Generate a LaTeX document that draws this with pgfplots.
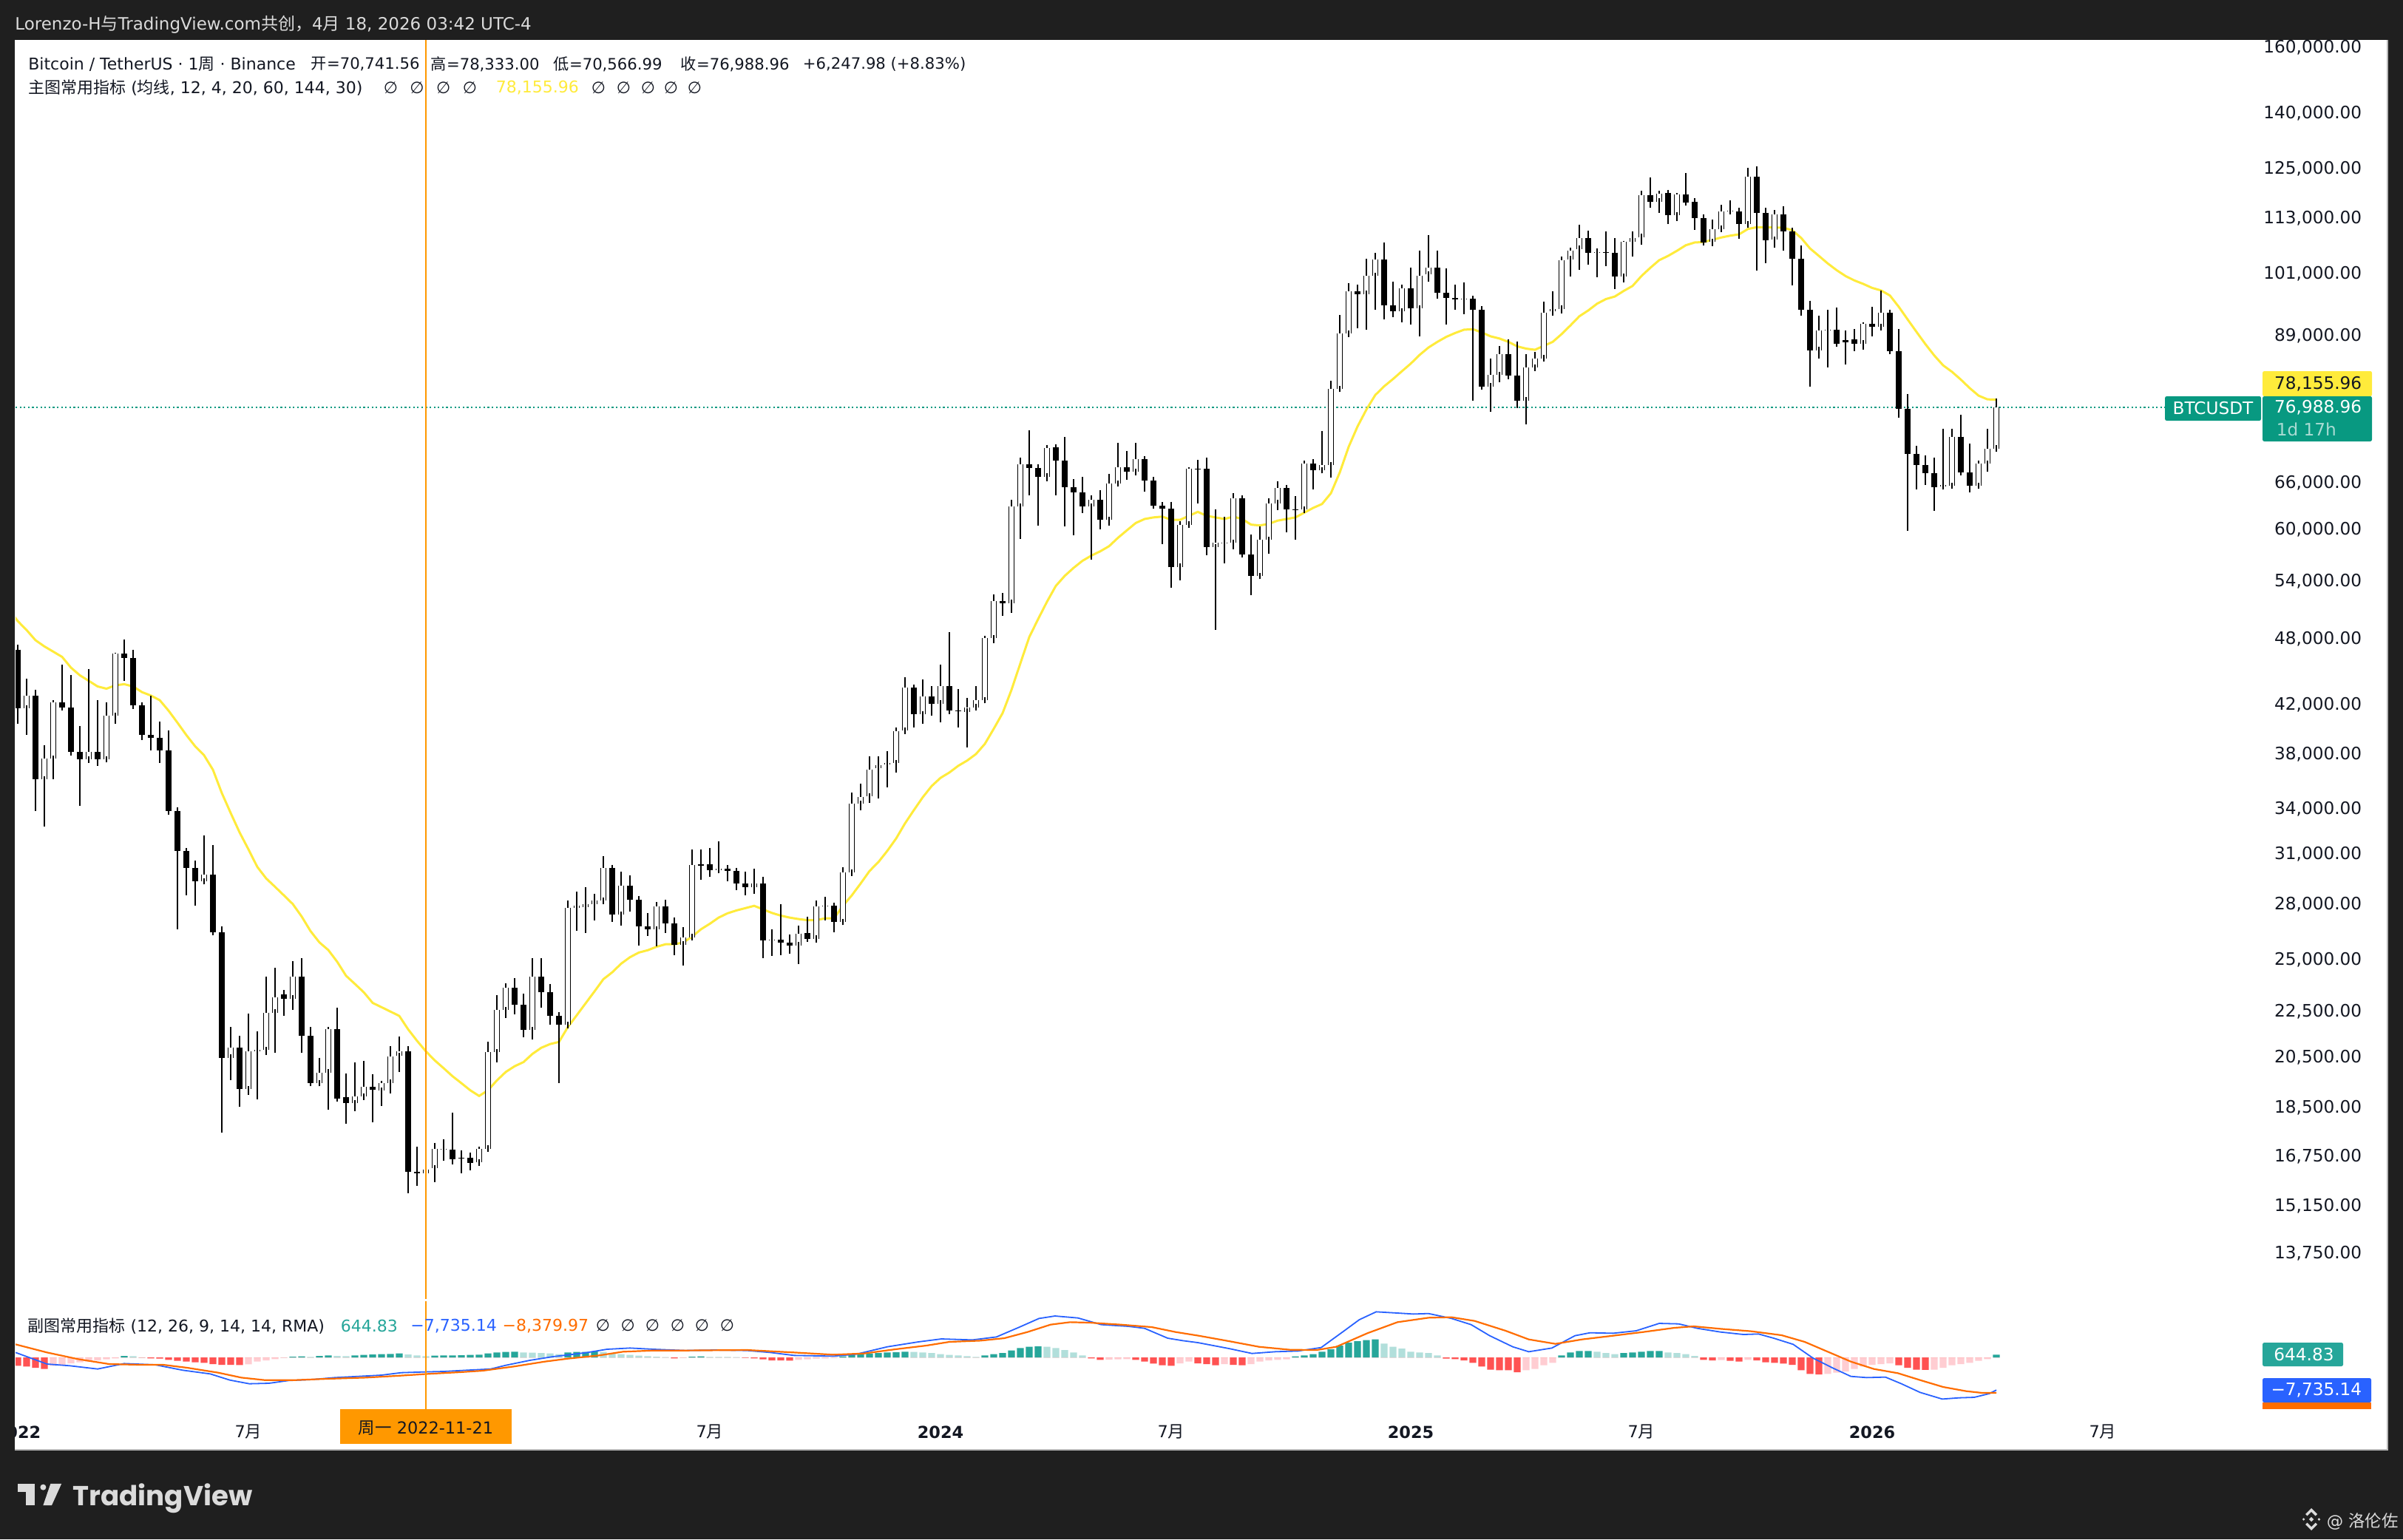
\documentclass[border=0pt]{standalone}
\usepackage{pgfplots}
\pgfplotsset{compat=1.18}
\usepackage{pgfplotstable}
\usepackage{fontspec}
\setmainfont{DejaVu Sans}
\newfontfamily\cjk{Noto Sans CJK SC}
\newfontfamily\popfont{Poppins}
\newcommand\zh[1]{{\cjk #1}}
\newcommand\fs[1]{\fontsize{#1pt}{#1pt}\selectfont}
\definecolor{bgdark}{HTML}{1F1F1F}
\definecolor{txt}{HTML}{131722}
\definecolor{tvteal}{HTML}{089981}
\definecolor{tvyellow}{HTML}{FFEB3B}
\definecolor{tvorange}{HTML}{FF9800}
\definecolor{macdblue}{HTML}{2962FF}
\definecolor{sigorange}{HTML}{FF6D00}
\definecolor{histdark}{HTML}{26A69A}
\definecolor{histlight}{HTML}{B2DFDB}
\definecolor{histpink}{HTML}{FFCDD2}
\definecolor{histred}{HTML}{FF5252}
\definecolor{logogrey}{HTML}{DBDBDB}
\pgfplotstableread{
k o h l c
0 47.0 47.5 40.4 41.7
1 41.7 44.3 39.5 42.8
2 42.8 43.3 33.85 36.1
3 36.1 38.7 32.8 37.65
4 37.65 42.4 36.1 42.2
5 42.2 45.6 41.5 41.8
6 41.8 44.6 37.9 38.15
7 38.15 40.2 34.2 37.6
8 37.6 45.2 37.3 38.15
9 38.15 42.4 37.1 37.6
10 37.6 42.2 37.4 41.06
11 41.06 46.7 40.4 46.6
12 46.6 48.0 44.1 46.2
13 46.2 47.0 41.7 41.95
14 41.95 42.2 39.1 39.5
15 39.5 42.8 38.3 39.25
16 39.25 40.6 37.3 38.27
17 38.27 39.9 33.6 33.85
18 33.85 34.1 26.6 31.19
19 31.19 31.3 28.5 30.12
20 30.12 30.6 27.9 29.33
21 29.33 32.2 29.17 29.73
22 29.73 31.56 26.3 26.44
23 26.44 26.74 17.6 20.48
24 20.48 21.8 19.56 20.92
25 20.92 21.41 18.53 19.22
26 19.22 22.41 19.0 20.76
27 20.76 21.6 18.81 20.8
28 20.8 24.17 20.6 22.45
29 22.45 24.58 20.7 23.15
30 23.3 23.5 22.3 23.1
31 23.1 24.92 22.57 24.17
32 24.17 25.1 20.7 21.41
33 21.41 21.8 19.4 19.45
34 19.45 20.48 19.4 19.88
35 19.88 21.8 18.42 21.7
36 21.7 22.68 18.8 18.86
37 18.9 19.84 17.9 18.67
38 18.67 20.3 18.38 18.92
39 18.92 20.36 18.86 19.3
40 19.3 19.8 17.97 19.18
41 19.15 19.55 18.56 19.46
42 19.46 20.96 19.05 20.53
43 20.55 21.4 19.9 20.76
44 20.76 20.96 15.55 16.24
45 16.24 17.08 15.77 16.2
46 16.2 16.74 15.4 16.32
47 16.35 17.23 15.9 17.01
48 16.98 17.34 16.6 17.02
49 17.0 18.32 16.48 16.67
50 16.7 16.96 16.19 16.68
51 16.72 16.89 16.29 16.54
52 16.55 17.1 16.5 17.02
53 17.02 21.15 17.0 20.72
54 20.72 23.25 20.3 22.56
55 22.56 23.83 22.2 23.6
56 23.6 24.1 22.38 22.8
57 22.8 23.32 21.35 21.67
58 21.67 25.1 21.27 24.14
59 24.14 25.1 22.67 23.42
60 23.42 23.8 21.9 22.31
61 22.31 22.46 19.45 21.89
62 21.89 28.2 21.76 27.8
63 27.8 28.7 26.5 27.9
64 27.83 29.0 26.4 27.99
65 28.0 28.6 27.1 28.2
66 28.2 30.86 28.15 30.13
67 30.13 30.3 27.0 27.4
68 27.4 29.9 26.8 29.08
69 29.08 29.68 27.56 28.25
70 28.25 28.48 25.72 26.76
71 26.75 27.5 26.25 26.6
72 26.6 28.1 25.7 27.88
73 27.88 28.25 26.4 26.93
74 26.93 27.25 25.25 25.79
75 25.79 26.7 24.7 26.17
76 26.17 31.27 26.0 30.3
77 30.35 31.3 29.4 30.25
78 30.37 31.4 29.6 29.98
79 30.0 31.8 29.8 30.1
80 30.1 30.3 29.35 29.95
81 29.95 30.05 28.8 29.2
82 29.2 29.9 28.5 29.0
83 29.0 30.1 28.6 29.2
84 29.2 29.6 25.1 26.0
85 26.0 26.6 25.2 26.05
86 26.05 28.0 25.25 25.88
87 25.9 26.3 25.3 25.75
88 25.75 26.8 24.8 26.37
89 26.4 27.3 26.0 26.1
90 26.1 28.2 25.9 27.85
91 27.85 28.4 27.1 27.9
92 27.9 28.0 26.45 27.0
93 27.0 30.17 26.9 29.85
94 29.85 35.13 29.8 34.33
95 34.33 35.8 33.9 34.83
96 34.85 37.8 34.4 36.84
97 36.9 37.8 34.7 37.15
98 37.2 38.2 35.5 37.3
99 37.3 40.1 36.6 39.79
100 39.85 44.4 39.7 43.5
101 43.5 43.6 40.1 41.2
102 41.2 44.2 40.4 42.74
103 42.74 43.6 41.1 42.1
104 42.1 45.6 40.5 43.6
105 43.6 48.7 41.4 41.5
106 41.5 43.34 40.1 41.45
107 41.4 42.6 38.5 41.8
108 41.8 43.6 41.7 42.4
109 42.4 48.3 42.3 48.1
110 48.1 52.6 47.6 51.9
111 51.9 52.7 50.3 51.6
112 51.65 63.7 50.6 62.85
113 62.85 69.5 58.9 68.5
114 68.5 73.4 64.3 68.0
115 68.0 68.5 60.5 66.8
116 66.8 71.3 66.2 70.85
117 70.9 71.0 64.3 69.0
118 69.0 72.4 60.4 65.4
119 65.4 66.5 59.3 64.7
120 64.7 66.8 62.0 62.85
121 62.85 64.3 56.4 63.7
122 63.7 65.0 60.0 61.2
123 61.2 67.2 60.5 65.9
124 65.9 71.6 65.8 68.1
125 68.1 70.4 66.4 67.5
126 67.5 71.6 67.0 69.2
127 69.2 69.7 64.8 66.3
128 66.3 66.8 62.8 63.0
129 63.0 63.2 58.2 62.6
130 62.6 63.5 53.3 55.6
131 55.6 61.0 54.1 60.6
132 60.6 68.1 60.5 67.9
133 67.9 69.1 63.3 67.85
134 67.9 69.5 56.96 57.9
135 57.9 62.5 48.9 58.4
136 58.4 61.6 56.0 58.45
137 58.4 64.6 57.6 63.9
138 63.9 64.1 56.9 57.04
139 57.04 59.4 52.5 54.6
140 54.6 60.4 54.5 58.75
141 58.75 63.9 57.1 63.3
142 63.3 66.2 62.4 65.3
143 65.3 65.5 59.7 62.5
144 62.55 64.2 58.75 62.5
145 62.5 69.0 62.4 68.65
146 68.65 69.2 65.1 67.7
147 67.7 73.3 67.3 68.4
148 68.4 81.2 66.7 79.9
149 79.9 92.8 79.8 89.4
150 89.4 99.1 89.2 97.5
151 97.5 98.7 90.4 96.9
152 96.9 104.1 90.1 100.5
153 100.5 105.3 93.9 104.0
154 104.0 107.6 92.0 94.7
155 94.7 99.4 92.4 93.5
156 93.5 98.7 91.4 98.0
157 98.0 102.3 91.0 94.1
158 94.1 105.9 88.9 100.6
159 100.8 109.3 99.3 102.2
160 102.2 105.9 95.9 97.1
161 97.1 102.1 91.0 96.1
162 96.1 98.7 93.8 95.8
163 95.8 99.2 93.0 95.9
164 95.9 96.1 78.0 93.8
165 93.8 94.5 79.8 80.3
166 80.3 85.0 76.2 82.2
167 82.2 87.1 81.0 85.7
168 85.7 88.3 81.4 82.1
169 82.1 88.0 76.8 78.0
170 78.0 85.7 74.3 83.4
171 83.4 86.1 82.9 85.0
172 85.0 95.4 84.9 93.3
173 93.5 97.4 92.7 94.0
174 94.0 104.5 93.1 103.8
175 104.0 106.4 100.4 105.9
176 106.2 111.6 101.8 108.5
177 108.6 110.3 102.8 105.3
178 105.4 106.3 100.2 105.5
179 105.5 110.0 102.6 105.45
180 105.3 108.6 97.9 100.4
181 100.4 108.0 99.2 107.8
182 107.8 110.0 104.6 108.6
183 108.8 119.5 107.1 118.5
184 118.5 122.8 115.5 116.9
185 116.9 119.5 114.3 118.8
186 119.0 119.3 111.7 113.7
187 113.7 119.0 112.4 118.7
188 118.7 123.9 116.3 116.7
189 116.9 117.2 110.4 113.0
190 113.1 113.3 107.1 107.6
191 107.7 112.8 106.8 110.6
192 110.6 116.1 110.4 114.7
193 114.8 117.3 114.0 114.85
194 114.7 114.9 108.4 111.7
195 111.7 125.3 111.0 123.0
196 123.0 125.6 101.6 114.3
197 114.3 115.4 103.2 108.1
198 108.2 114.9 106.4 114.0
199 114.0 115.9 105.9 110.0
200 110.1 110.4 98.6 104.1
201 104.1 106.9 92.7 93.8
202 93.8 95.6 80.2 86.4
203 86.4 92.7 84.9 89.9
204 90.0 93.8 83.4 90.1
205 90.1 94.3 87.2 87.6
206 88.2 89.9 84.0 87.8
207 88.3 90.2 86.2 87.6
208 87.6 91.5 86.5 91.2
209 91.2 94.4 88.9 90.6
210 90.6 97.6 90.0 93.2
211 93.2 93.4 85.8 86.3
212 86.3 90.2 75.4 76.7
213 76.7 79.1 59.8 70.0
214 70.0 71.1 65.1 68.4
215 68.4 69.8 65.7 67.3
216 67.3 69.5 62.3 65.4
217 65.5 73.7 65.2 65.7
218 65.6 73.7 65.5 72.5
219 72.5 75.8 67.1 67.4
220 67.4 71.5 64.7 65.6
221 65.6 69.0 65.5 68.6
222 68.6 73.6 67.5 70.74
223 70.74156 78.333 70.56699 76.98896
}\candles
\pgfplotstableread{
k v
-1 51.0
0 49.8
1 48.9
2 47.9
3 47.3
4 46.8
5 46.3
6 45.3
7 44.6
8 44.1
9 43.6
10 43.4
11 43.7
12 43.8
13 43.6
14 43.1
15 42.8
16 42.4
17 41.5
18 40.5
19 39.5
20 38.6
21 37.9
22 36.8
23 35.1
24 33.7
25 32.4
26 31.3
27 30.2
28 29.5
29 29.0
30 28.5
31 28.0
32 27.3
33 26.5
34 25.9
35 25.5
36 24.9
37 24.2
38 23.8
39 23.4
40 22.9
41 22.7
42 22.5
43 22.3
44 21.7
45 21.2
46 20.75
47 20.37
48 20.05
49 19.73
50 19.45
51 19.17
52 18.95
53 19.17
54 19.56
55 19.9
56 20.13
57 20.3
58 20.64
59 20.9
60 21.06
61 21.15
62 21.8
63 22.33
64 22.88
65 23.44
66 24.03
67 24.37
68 24.8
69 25.13
70 25.37
71 25.49
72 25.67
73 25.8
74 25.8
75 25.9
76 26.2
77 26.6
78 26.9
79 27.24
80 27.48
81 27.64
82 27.77
83 27.9
84 27.7
85 27.5
86 27.35
87 27.24
88 27.16
89 27.1
90 27.1
91 27.2
92 27.2
93 27.9
94 28.5
95 29.2
96 29.95
97 30.5
98 31.2
99 32.0
100 33.0
101 33.9
102 34.8
103 35.6
104 36.2
105 36.6
106 37.1
107 37.5
108 38.0
109 38.8
110 40.0
111 41.3
112 43.3
113 45.7
114 48.2
115 50.0
116 51.8
117 53.5
118 54.6
119 55.5
120 56.3
121 56.9
122 57.4
123 58.0
124 59.0
125 59.9
126 60.8
127 61.3
128 61.5
129 61.6
130 61.2
131 61.2
132 61.7
133 62.2
134 61.7
135 61.5
136 61.3
137 61.6
138 61.3
139 60.6
140 60.5
141 60.7
142 61.1
143 61.3
144 61.5
145 62.1
146 62.7
147 63.2
148 64.6
149 67.4
150 71.0
151 74.0
152 76.6
153 78.9
154 80.3
155 81.5
156 82.8
157 84.1
158 85.6
159 86.9
160 87.9
161 88.8
162 89.5
163 90.1
164 90.2
165 89.6
166 88.9
167 88.5
168 87.9
169 87.1
170 86.7
171 86.5
172 87.2
173 87.9
174 89.3
175 90.9
176 92.6
177 93.7
178 95.0
179 95.9
180 96.4
181 97.5
182 98.5
183 100.5
184 102.2
185 103.8
186 104.7
187 105.8
188 107.0
189 107.6
190 107.7
191 108.2
192 108.7
193 109.1
194 109.4
195 110.6
196 111.0
197 111.0
198 110.9
199 110.9
200 110.3
201 108.6
202 106.3
203 104.7
204 103.1
205 101.7
206 100.5
207 99.6
208 98.9
209 98.1
210 97.6
211 96.6
212 94.4
213 92.0
214 89.7
215 87.5
216 85.5
217 83.8
218 82.7
219 81.4
220 80.0
221 78.8
222 78.2
223 78.15596
}\ma
\pgfplotstableread{
k v
-0.25 1167
3.3 -1575
5.9 -1983
9.0 -2742
12.0 -1458
15.5 -1750
18.6 -3033
21.7 -3908
23.9 -5366
26.1 -6241
28.3 -6125
30.5 -5483
33.1 -5250
35.7 -4783
38.4 -4491
41.0 -4200
43.2 -3617
45.8 -3441
48.0 -3325
50.6 -3033
53.3 -2742
55.0 -1867
57.7 -700
60.3 175
62.0 583
64.2 1167
66.4 1925
69.0 2217
71.7 1925
75.2 1633
78.7 1750
82.2 1633
84.8 1167
87.5 467
91.9 292
94.5 758
98.0 2508
101.5 3675
104.1 4375
107.6 4141
110.3 4841
112.9 7175
115.1 9216
116.9 9800
119.5 9333
122.1 7758
125.2 7350
127.0 6883
129.6 4550
131.3 3966
133.0 3500
136.5 2100
139.1 933
141.7 1342
144.3 1517
146.9 2333
149.5 6300
151.2 8925
153.1 10791
155.5 10500
157.3 10266
159.0 10383
161.6 9216
163.8 7758
165.9 5133
168.5 2508
170.3 1342
172.9 2217
175.5 5133
177.2 5833
179.8 5716
182.4 6300
185.0 8050
187.2 7933
189.3 6883
191.9 6008
194.5 5425
196.2 5541
197.9 4550
200.1 3092
202.3 -117
204.5 -2450
206.6 -4491
208.4 -4783
210.5 -4666
212.3 -6241
214.4 -8283
216.9 -9858
218.8 -9566
220.5 -9450
222.2 -8575
223 -7735.14
}\macd
\pgfplotstableread{
k v
-0.25 3091
3.3 1167
6.8 -408
10.3 -1575
13.8 -1750
16.4 -1750
19.1 -2450
22.6 -3617
25.2 -4783
27.8 -5366
31.3 -5366
34.8 -5075
39.2 -4783
42.7 -4375
46.2 -3908
49.8 -3500
52.4 -3150
55.9 -2158
59.4 -992
62.0 -292
65.5 467
68.2 1342
71.7 1633
75.2 1633
82.2 1750
87.5 1167
91.9 642
95.4 933
98.9 1925
102.4 2800
105.0 3675
108.5 3966
111.2 4550
113.8 6008
116.4 7758
118.6 8341
120.8 8225
124.3 7758
127.8 7175
130.5 6008
133.1 5133
136.5 3850
139.9 2508
143.4 1808
146.4 1750
148.6 2508
152.1 5716
155.5 8341
159.0 9391
161.6 9508
164.2 8633
167.7 6300
170.3 4258
173.3 3208
176.3 4258
179.8 5133
183.2 6008
186.7 7000
188.9 7350
191.9 6766
195.4 6183
198.8 5250
201.4 3675
204.0 1342
206.6 -992
209.2 -2742
211.9 -3733
214.4 -5366
217.0 -7000
219.6 -7991
221.4 -8400
223 -8379.97
}\sig
\pgfplotstableread{
k h t
0 -1983 4
1 -2158 4
2 -2450 4
3 -2742 4
4 -1983 3
5 -1750 3
6 -1400 3
7 -1167 3
8 -992 3
9 -700 3
10 -467 3
11 -233 3
12 350 1
13 292 2
14 -60 4
15 -233 4
16 -292 4
17 -583 4
18 -817 4
19 -992 4
20 -1167 4
21 -1283 4
22 -1575 4
23 -1750 4
24 -1780 4
25 -1800 4
26 -1633 3
27 -992 3
28 -700 3
29 -408 3
30 -117 3
31 175 1
32 233 1
33 117 2
34 350 1
35 467 1
36 350 2
37 292 2
38 467 1
39 583 1
40 700 1
41 758 1
42 817 1
43 933 1
44 700 2
45 467 2
46 292 2
47 408 1
48 467 1
49 480 1
50 525 1
51 583 1
52 642 1
53 933 1
54 1167 1
55 1283 1
56 1342 1
57 1167 2
58 1120 2
59 1050 2
60 933 2
61 758 2
62 1167 1
63 1283 1
64 1300 1
65 1400 1
66 1283 2
67 1050 2
68 758 2
69 583 2
70 408 2
71 292 2
72 175 2
73 58 2
74 -233 4
75 -117 3
76 175 1
77 233 1
78 117 2
79 110 2
80 100 2
81 58 2
82 -117 4
83 -233 4
84 -467 4
85 -700 4
86 -720 4
87 -740 4
88 -583 3
89 -467 3
90 -292 3
91 -233 3
92 -117 3
93 233 1
94 583 1
95 758 1
96 933 1
97 1050 1
98 1167 1
99 1225 1
100 1342 1
101 1300 2
102 1167 2
103 1050 2
104 758 2
105 583 2
106 467 2
107 292 2
108 117 2
109 467 1
110 758 1
111 1050 1
112 1633 1
113 2217 1
114 2508 1
115 2625 1
116 2508 2
117 2217 2
118 1750 2
119 1167 2
120 467 2
121 -233 4
122 -583 4
123 -550 3
124 -467 3
125 -408 3
126 -583 4
127 -992 4
128 -1458 4
129 -1867 4
130 -1983 4
131 -1400 3
132 -992 3
133 -1400 4
134 -1575 4
135 -1867 4
136 -1575 3
137 -1750 4
138 -1867 4
139 -1575 3
140 -992 3
141 -700 3
142 -583 3
143 -467 3
144 233 1
145 467 1
146 758 1
147 1342 1
148 1925 1
149 2800 1
150 3500 1
151 3850 1
152 4083 1
153 4258 1
154 3266 2
155 2508 2
156 2100 2
157 1342 2
158 1167 2
159 1050 2
160 467 2
161 -292 4
162 -408 4
163 -700 4
164 -1283 4
165 -2158 4
166 -2917 4
167 -3033 4
168 -3050 4
169 -3500 4
170 -3033 3
171 -2742 3
172 -1867 3
173 -1283 3
174 467 1
175 1167 1
176 1517 1
177 1530 1
178 1342 2
179 1050 2
180 758 2
181 1050 1
182 1167 1
183 1342 1
184 1517 1
185 1530 1
186 1167 2
187 1050 2
188 758 2
189 350 2
190 -583 4
191 -700 4
192 -650 3
193 -817 4
194 -992 4
195 -583 3
196 -700 4
197 -1167 4
198 -1283 4
199 -1458 4
200 -1750 4
201 -3033 4
202 -3908 4
203 -4025 4
204 -3908 3
205 -3617 3
206 -3325 3
207 -2742 3
208 -2158 3
209 -1750 3
210 -1575 3
211 -1400 3
212 -1867 4
213 -2450 4
214 -2917 4
215 -2950 4
216 -2900 3
217 -2450 3
218 -1867 3
219 -1575 3
220 -1283 3
221 -817 3
222 -408 3
223 644.83 1
}\hist
\begin{document}
\begin{tikzpicture}
\useasboundingbox (0,0) rectangle (812.5pt,520.5pt);
\fill[bgdark] (0,0) rectangle (812.5pt,520.5pt);
\fill[white] (5pt,30.25pt) rectangle (807.25pt,507pt);
\draw[gray!55, line width=0.4pt] (5pt,30.25pt) -- (807.25pt,30.25pt) -- (807.25pt,507pt);
% ---------------- main pane ----------------
\begin{axis}[
  at={(5.25pt,81pt)}, anchor=south west,
  width=759.75pt, height=426pt, scale only axis,
  xmin=-0.25, xmax=253,
  ymode=log, ymin=12.517, ymax=162.5,
  axis line style={draw=none},
  xtick=\empty, yminorticks=false, major tick length=0pt,
  ytick={13.75,15.15,16.75,18.5,20.5,22.5,25,28,31,34,38,42,48,54,60,66,89,101,113,125,140,160},
  yticklabels={{13,750.00},{15,150.00},{16,750.00},{18,500.00},{20,500.00},{22,500.00},{25,000.00},{28,000.00},{31,000.00},{34,000.00},{38,000.00},{42,000.00},{48,000.00},{54,000.00},{60,000.00},{66,000.00},{89,000.00},{101,000.00},{113,000.00},{125,000.00},{140,000.00},{160,000.00}},
  yticklabel pos=right,
  yticklabel style={anchor=east, xshift=33.75pt, inner sep=0pt, font=\fs{5.8}, text=txt},
]
\addplot[tvteal, line width=0.45pt, dash pattern=on 0.55pt off 0.85pt, forget plot] coordinates {(-0.25,76.98896) (242,76.98896)};
\addplot[tvyellow, line width=0.75pt, forget plot] table[x=k,y=v]{\ma};
% wicks
\addplot[draw=none, mark=none, forget plot,
  error bars/.cd, y dir=minus, y explicit, error mark=none,
  error bar style={draw=black, line width=0.4pt}]
  table[x=k, y=h, y error minus expr={\thisrow{h}-\thisrow{l}}]{\candles};
% bodies (black)
\addplot[draw=none, mark=none, forget plot,
  error bars/.cd, y dir=minus, y explicit, error mark=-,
  error mark options={draw=black, line width=0.36pt, mark size=1.1pt},
  error bar style={draw=black, line width=2.2pt, line cap=butt}]
  table[x=k, y expr={max(\thisrow{o},\thisrow{c})}, y error minus expr={abs(\thisrow{o}-\thisrow{c})}]{\candles};
% up bodies: white inside (zero length for down candles)
\addplot[draw=none, mark=none, forget plot,
  error bars/.cd, y dir=minus, y explicit, error mark=-,
  error mark options={draw=black, line width=0.36pt, mark size=1.1pt},
  error bar style={draw=white, line width=1.48pt, line cap=butt}]
  table[x=k, y expr={max(\thisrow{o},\thisrow{c})}, y error minus expr={max(\thisrow{c}-\thisrow{o},0)}]{\candles};
\end{axis}
% ---------------- MACD pane ----------------
\begin{axis}[
  at={(5.25pt,44pt)}, anchor=south west,
  width=759.75pt, height=36.5pt, scale only axis,
  xmin=-0.25, xmax=253, ymin=-12250, ymax=13300,
  axis line style={draw=none},
  ytick=\empty, major tick length=0pt,
  xtick={0,26,78,104,130,157,183,209,235},
  xticklabels={\textbf{2022},7\zh{月},7\zh{月},\textbf{2024},7\zh{月},\textbf{2025},7\zh{月},\textbf{2026},7\zh{月}},
  xticklabel style={anchor=center, yshift=-7.75pt, inner sep=0pt, font=\fs{5.6}, text=txt},
]
\addplot[ybar, bar width=2.3pt, bar shift=0pt, draw=none, fill=histdark, forget plot] table[x=k,y expr={\thisrow{t}==1 ? \thisrow{h} : 0}]{\hist};
\addplot[ybar, bar width=2.3pt, bar shift=0pt, draw=none, fill=histlight, forget plot] table[x=k,y expr={\thisrow{t}==2 ? \thisrow{h} : 0}]{\hist};
\addplot[ybar, bar width=2.3pt, bar shift=0pt, draw=none, fill=histpink, forget plot] table[x=k,y expr={\thisrow{t}==3 ? \thisrow{h} : 0}]{\hist};
\addplot[ybar, bar width=2.3pt, bar shift=0pt, draw=none, fill=histred, forget plot] table[x=k,y expr={\thisrow{t}==4 ? \thisrow{h} : 0}]{\hist};
\addplot[macdblue, line width=0.45pt, forget plot] table[x=k,y=v]{\macd};
\addplot[sigorange, line width=0.55pt, forget plot] table[x=k,y=v]{\sig};
\end{axis}
% crosshair
\draw[tvorange, line width=0.35pt] (144pt,507pt) -- (144pt,81.3pt);
\draw[tvorange, line width=0.35pt] (144pt,80.4pt) -- (144pt,44pt);
\fill[tvorange] (115pt,32.25pt) rectangle (173pt,44pt);
\node[inner sep=0pt, font=\fs{5.6}, text=txt] at (144pt,37.6pt) {\zh{周一} 2022-11-21};
% cover left overflow
\fill[bgdark] (0,30pt) rectangle (5pt,507pt);
% right price labels
\fill[tvyellow, rounded corners=0.6pt] (765pt,386.5pt) rectangle (802pt,395pt);
\node[anchor=east, inner sep=0pt, font=\fs{5.8}, text=txt] at (798.75pt,390.75pt) {78,155.96};
\fill[tvteal, rounded corners=0.6pt] (732pt,378.25pt) rectangle (764.5pt,386.5pt);
\node[inner sep=0pt, font=\fs{5.8}, text=white] at (748.25pt,382.4pt) {BTCUSDT};
\fill[tvteal, rounded corners=0.6pt] (765pt,371.25pt) rectangle (802pt,386.5pt);
\node[anchor=east, inner sep=0pt, font=\fs{5.8}, text=white] at (798.75pt,382.6pt) {76,988.96};
\node[anchor=west, inner sep=0pt, font=\fs{5.8}, text=white!65!tvteal] at (769.5pt,375.3pt) {1d 17h};
% MACD labels
\fill[histdark, rounded corners=0.6pt] (765pt,58.5pt) rectangle (792.25pt,66.5pt);
\node[inner sep=0pt, font=\fs{5.8}, text=white] at (779pt,62.5pt) {644.83};
\fill[macdblue, rounded corners=0.6pt] (765pt,46.25pt) rectangle (801.75pt,54.5pt);
\node[anchor=east, inner sep=0pt, font=\fs{5.8}, text=white] at (798.75pt,50.4pt) {−7,735.14};
\fill[sigorange] (765pt,44pt) rectangle (801.75pt,46.25pt);
% title bar
\node[anchor=west, inner sep=0pt, font=\fs{5.75}, text=logogrey] at (4.9pt,512.25pt) {Lorenzo-H\zh{与}TradingView.com\zh{共创，}4\zh{月} 18, 2026 03:42 UTC-4};
% legends
\begin{scope}[every node/.style={anchor=west, inner sep=0pt, font=\fs{5.5}, text=txt}]
\node at (9.4pt,498.8pt) {Bitcoin / TetherUS · 1\zh{周} · Binance};
\node[font=\fs{5.3}] at (105pt,498.8pt) {\zh{开}=70,741.56};
\node[font=\fs{5.3}] at (145.5pt,498.8pt) {\zh{高}=78,333.00};
\node[font=\fs{5.3}] at (187pt,498.8pt) {\zh{低}=70,566.99};
\node[font=\fs{5.3}] at (230pt,498.8pt) {\zh{收}=76,988.96};
\node[font=\fs{5.3}] at (271.25pt,498.8pt) {+6,247.98 (+8.83\%)};
\node at (9.4pt,490.9pt) {\zh{主图常用指标} (\zh{均线}, 12, 4, 20, 60, 144, 30)};
\foreach \xx in {129.5,138.4,147.3,156.25,199.75,208.25,216.5,224.25,232.25} \node at (\xx pt,490.9pt) {∅};
\node[text=tvyellow] at (167.5pt,490.9pt) {78,155.96};
\node at (9.2pt,72.2pt) {\zh{副图常用指标} (12, 26, 9, 14, 14, RMA)};
\node[text=histdark] at (115pt,72.2pt) {644.83};
\node[text=macdblue] at (138.65pt,72.2pt) {−7,735.14};
\node[text=sigorange] at (169.7pt,72.2pt) {−8,379.97};
\foreach \xx in {201.25,209.7,218,226.5,234.75,243.25} \node at (\xx pt,72.2pt) {∅};
\end{scope}
% TradingView logo
\fill[logogrey] (6pt,15.9pt) rectangle (11.8pt,18.8pt);
\fill[logogrey] (8.75pt,11.5pt) rectangle (11.8pt,18.8pt);
\fill[logogrey] (14.6pt,17.6pt) circle (1pt);
\fill[logogrey] (17.1pt,18.8pt) -- (20.8pt,18.8pt) -- (17.5pt,11.5pt) -- (14.6pt,11.5pt) -- cycle;
\node[anchor=base west, inner sep=0pt, text=logogrey, font=\popfont\bfseries\fs{9.3}] at (24.4pt,11.5pt) {TradingView};
% signature
\fill[logogrey] (781.5pt,7.55pt) -- (782.3pt,6.75pt) -- (781.5pt,5.95pt) -- (780.7pt,6.75pt) -- cycle;
\fill[logogrey] (778.9pt,7.2pt) -- (779.35pt,6.75pt) -- (778.9pt,6.3pt) -- (778.45pt,6.75pt) -- cycle;
\fill[logogrey] (784.1pt,7.2pt) -- (784.55pt,6.75pt) -- (784.1pt,6.3pt) -- (783.65pt,6.75pt) -- cycle;
\fill[logogrey] (779.5pt,8.5pt) -- (781.5pt,10.5pt) -- (783.5pt,8.5pt) -- (782.9pt,7.9pt) -- (781.5pt,9.3pt) -- (780.1pt,7.9pt) -- cycle;
\fill[logogrey] (779.5pt,5.0pt) -- (781.5pt,3.0pt) -- (783.5pt,5.0pt) -- (782.9pt,5.6pt) -- (781.5pt,4.2pt) -- (780.1pt,5.6pt) -- cycle;
\node[anchor=base west, inner sep=0pt, text=logogrey, font=\fs{5.6}] at (786.5pt,4.2pt) {@ \zh{洛伦佐}};
\end{tikzpicture}
\end{document}
